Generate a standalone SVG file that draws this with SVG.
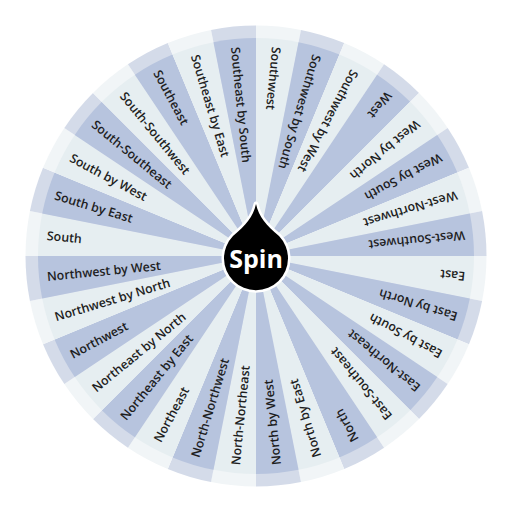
<svg xmlns="http://www.w3.org/2000/svg" xmlns:xlink="http://www.w3.org/1999/xlink" width="512" height="512" viewBox="0 0 512 512">
<defs>
<style>
.rl{fill:#f1f5f7}.rb{fill:#d4dbe9}
.sl{fill:#e6eef1}.sb{fill:#b7c4de}
.lbl{font-family:"Open Sans","DejaVu Sans",sans-serif;font-weight:600;font-size:12.4px;fill:#1e1e1e;dominant-baseline:central}
</style>
<path id="rw" d="M256,256 L486.5,256 A230.5,230.5 0 0 1 482.07,300.97 Z"/>
<path id="mw" d="M256,256 L474,256 A218,218 0 0 1 469.81,298.53 Z"/>
</defs>
<rect width="512" height="512" fill="#ffffff"/>
<g id="wheel">
<g id="seg0"><use xlink:href="#rw" class="rl" transform="rotate(0 256 256)"/><use xlink:href="#mw" class="sl" transform="rotate(0 256 256)"/><text class="lbl" x="46" y="256" transform="rotate(185.625 256 256)">East</text></g>
<g id="seg1"><use xlink:href="#rw" class="rb" transform="rotate(11.25 256 256)"/><use xlink:href="#mw" class="sb" transform="rotate(11.25 256 256)"/><text class="lbl" x="46" y="256" transform="rotate(196.875 256 256)">East by North</text></g>
<g id="seg2"><use xlink:href="#rw" class="rl" transform="rotate(22.5 256 256)"/><use xlink:href="#mw" class="sl" transform="rotate(22.5 256 256)"/><text class="lbl" x="46" y="256" transform="rotate(208.125 256 256)">East by South</text></g>
<g id="seg3"><use xlink:href="#rw" class="rb" transform="rotate(33.75 256 256)"/><use xlink:href="#mw" class="sb" transform="rotate(33.75 256 256)"/><text class="lbl" x="46" y="256" transform="rotate(219.375 256 256)">East-Northeast</text></g>
<g id="seg4"><use xlink:href="#rw" class="rl" transform="rotate(45 256 256)"/><use xlink:href="#mw" class="sl" transform="rotate(45 256 256)"/><text class="lbl" x="46" y="256" transform="rotate(230.625 256 256)">East-Southeast</text></g>
<g id="seg5"><use xlink:href="#rw" class="rb" transform="rotate(56.25 256 256)"/><use xlink:href="#mw" class="sb" transform="rotate(56.25 256 256)"/><text class="lbl" x="46" y="256" transform="rotate(241.875 256 256)">North</text></g>
<g id="seg6"><use xlink:href="#rw" class="rl" transform="rotate(67.5 256 256)"/><use xlink:href="#mw" class="sl" transform="rotate(67.5 256 256)"/><text class="lbl" x="46" y="256" transform="rotate(253.125 256 256)">North by East</text></g>
<g id="seg7"><use xlink:href="#rw" class="rb" transform="rotate(78.75 256 256)"/><use xlink:href="#mw" class="sb" transform="rotate(78.75 256 256)"/><text class="lbl" x="46" y="256" transform="rotate(264.375 256 256)">North by West</text></g>
<g id="seg8"><use xlink:href="#rw" class="rl" transform="rotate(90 256 256)"/><use xlink:href="#mw" class="sl" transform="rotate(90 256 256)"/><text class="lbl" x="46" y="256" transform="rotate(275.625 256 256)">North-Northeast</text></g>
<g id="seg9"><use xlink:href="#rw" class="rb" transform="rotate(101.25 256 256)"/><use xlink:href="#mw" class="sb" transform="rotate(101.25 256 256)"/><text class="lbl" x="46" y="256" transform="rotate(286.875 256 256)">North-Northwest</text></g>
<g id="seg10"><use xlink:href="#rw" class="rl" transform="rotate(112.5 256 256)"/><use xlink:href="#mw" class="sl" transform="rotate(112.5 256 256)"/><text class="lbl" x="46" y="256" transform="rotate(298.125 256 256)">Northeast</text></g>
<g id="seg11"><use xlink:href="#rw" class="rb" transform="rotate(123.75 256 256)"/><use xlink:href="#mw" class="sb" transform="rotate(123.75 256 256)"/><text class="lbl" x="46" y="256" transform="rotate(309.375 256 256)">Northeast by East</text></g>
<g id="seg12"><use xlink:href="#rw" class="rl" transform="rotate(135 256 256)"/><use xlink:href="#mw" class="sl" transform="rotate(135 256 256)"/><text class="lbl" x="46" y="256" transform="rotate(320.625 256 256)">Northeast by North</text></g>
<g id="seg13"><use xlink:href="#rw" class="rb" transform="rotate(146.25 256 256)"/><use xlink:href="#mw" class="sb" transform="rotate(146.25 256 256)"/><text class="lbl" x="46" y="256" transform="rotate(331.875 256 256)">Northwest</text></g>
<g id="seg14"><use xlink:href="#rw" class="rl" transform="rotate(157.5 256 256)"/><use xlink:href="#mw" class="sl" transform="rotate(157.5 256 256)"/><text class="lbl" x="46" y="256" transform="rotate(343.125 256 256)">Northwest by North</text></g>
<g id="seg15"><use xlink:href="#rw" class="rb" transform="rotate(168.75 256 256)"/><use xlink:href="#mw" class="sb" transform="rotate(168.75 256 256)"/><text class="lbl" x="46" y="256" transform="rotate(354.375 256 256)">Northwest by West</text></g>
<g id="seg16"><use xlink:href="#rw" class="rl" transform="rotate(180 256 256)"/><use xlink:href="#mw" class="sl" transform="rotate(180 256 256)"/><text class="lbl" x="46" y="256" transform="rotate(5.625 256 256)">South</text></g>
<g id="seg17"><use xlink:href="#rw" class="rb" transform="rotate(191.25 256 256)"/><use xlink:href="#mw" class="sb" transform="rotate(191.25 256 256)"/><text class="lbl" x="46" y="256" transform="rotate(16.875 256 256)">South by East</text></g>
<g id="seg18"><use xlink:href="#rw" class="rl" transform="rotate(202.5 256 256)"/><use xlink:href="#mw" class="sl" transform="rotate(202.5 256 256)"/><text class="lbl" x="46" y="256" transform="rotate(28.125 256 256)">South by West</text></g>
<g id="seg19"><use xlink:href="#rw" class="rb" transform="rotate(213.75 256 256)"/><use xlink:href="#mw" class="sb" transform="rotate(213.75 256 256)"/><text class="lbl" x="46" y="256" transform="rotate(39.375 256 256)">South-Southeast</text></g>
<g id="seg20"><use xlink:href="#rw" class="rl" transform="rotate(225 256 256)"/><use xlink:href="#mw" class="sl" transform="rotate(225 256 256)"/><text class="lbl" x="46" y="256" transform="rotate(50.625 256 256)">South-Southwest</text></g>
<g id="seg21"><use xlink:href="#rw" class="rb" transform="rotate(236.25 256 256)"/><use xlink:href="#mw" class="sb" transform="rotate(236.25 256 256)"/><text class="lbl" x="46" y="256" transform="rotate(61.875 256 256)">Southeast</text></g>
<g id="seg22"><use xlink:href="#rw" class="rl" transform="rotate(247.5 256 256)"/><use xlink:href="#mw" class="sl" transform="rotate(247.5 256 256)"/><text class="lbl" x="46" y="256" transform="rotate(73.125 256 256)">Southeast by East</text></g>
<g id="seg23"><use xlink:href="#rw" class="rb" transform="rotate(258.75 256 256)"/><use xlink:href="#mw" class="sb" transform="rotate(258.75 256 256)"/><text class="lbl" x="46" y="256" transform="rotate(84.375 256 256)">Southeast by South</text></g>
<g id="seg24"><use xlink:href="#rw" class="rl" transform="rotate(270 256 256)"/><use xlink:href="#mw" class="sl" transform="rotate(270 256 256)"/><text class="lbl" x="46" y="256" transform="rotate(95.625 256 256)">Southwest</text></g>
<g id="seg25"><use xlink:href="#rw" class="rb" transform="rotate(281.25 256 256)"/><use xlink:href="#mw" class="sb" transform="rotate(281.25 256 256)"/><text class="lbl" x="46" y="256" transform="rotate(106.875 256 256)">Southwest by South</text></g>
<g id="seg26"><use xlink:href="#rw" class="rl" transform="rotate(292.5 256 256)"/><use xlink:href="#mw" class="sl" transform="rotate(292.5 256 256)"/><text class="lbl" x="46" y="256" transform="rotate(118.125 256 256)">Southwest by West</text></g>
<g id="seg27"><use xlink:href="#rw" class="rb" transform="rotate(303.75 256 256)"/><use xlink:href="#mw" class="sb" transform="rotate(303.75 256 256)"/><text class="lbl" x="46" y="256" transform="rotate(129.375 256 256)">West</text></g>
<g id="seg28"><use xlink:href="#rw" class="rl" transform="rotate(315 256 256)"/><use xlink:href="#mw" class="sl" transform="rotate(315 256 256)"/><text class="lbl" x="46" y="256" transform="rotate(140.625 256 256)">West by North</text></g>
<g id="seg29"><use xlink:href="#rw" class="rb" transform="rotate(326.25 256 256)"/><use xlink:href="#mw" class="sb" transform="rotate(326.25 256 256)"/><text class="lbl" x="46" y="256" transform="rotate(151.875 256 256)">West by South</text></g>
<g id="seg30"><use xlink:href="#rw" class="rl" transform="rotate(337.5 256 256)"/><use xlink:href="#mw" class="sl" transform="rotate(337.5 256 256)"/><text class="lbl" x="46" y="256" transform="rotate(163.125 256 256)">West-Northwest</text></g>
<g id="seg31"><use xlink:href="#rw" class="rb" transform="rotate(348.75 256 256)"/><use xlink:href="#mw" class="sb" transform="rotate(348.75 256 256)"/><text class="lbl" x="46" y="256" transform="rotate(174.375 256 256)">West-Southwest</text></g>
</g>
<g id="spin">
<path d="M256,204 C259,217 266,225 279,236 A32,32 0 1 1 233,236 C246,225 253,217 256,204 Z" fill="#000000" stroke="#ffffff" stroke-width="5" stroke-linejoin="round" paint-order="stroke"/>
<text x="256" y="258" text-anchor="middle" dominant-baseline="central" font-family="'Open Sans','DejaVu Sans',sans-serif" font-weight="700" font-size="25" fill="#ffffff">Spin</text>
</g>
<g id="connectors"/>
</svg>
